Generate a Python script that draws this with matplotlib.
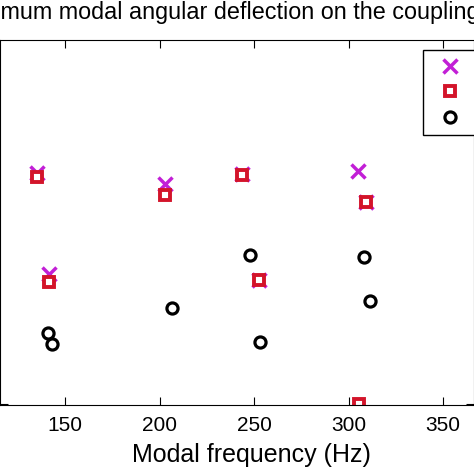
import matplotlib
matplotlib.use("Agg")
import matplotlib.pyplot as plt

plt.rcParams['font.family'] = ['Liberation Sans', 'DejaVu Sans']

x_cross = [135.2, 141.5, 202.9, 243.7, 252.6, 305.0, 309.3]
y_cross = [0.635, 0.356, 0.603, 0.632, 0.340, 0.641, 0.556]
x_square = [135.2, 141.5, 202.9, 243.7, 252.6, 309.3, 305.6]
y_square = [0.624, 0.334, 0.575, 0.630, 0.340, 0.556, 0.000]
x_circle = [141.0, 143.0, 206.6, 247.9, 253.2, 308.2, 311.4]
y_circle = [0.195, 0.164, 0.263, 0.408, 0.170, 0.405, 0.282]
labels = ['Analytical', 'FE model', 'Experimental']

fig = plt.figure(figsize=(4.74, 4.74), dpi=100)
ax = fig.add_axes([0.0, 1 - 405/474, 1.0, (405 - 40)/474])
ax.set_xlim(115.6, 366.4)
ax.set_ylim(-0.003, 1.0)

ax.plot(x_cross, y_cross, 'x', color='#c21fd6', ms=10, mew=2.5, ls='none', label=labels[0])
ax.plot(x_square, y_square, 's', color='#d3142a', mfc='white', ms=6.5, mew=2.8, ls='none', label=labels[1])
ax.plot(x_circle, y_circle, 'o', color='black', mfc='none', ms=8, mew=2.3, ls='none', label=labels[2])

ax.set_xticks([150, 200, 250, 300, 350])
ax.set_yticks([0.0])
ax.set_yticklabels([])
ax.tick_params(direction='in', top=True, right=True, labelsize=15, length=6, pad=8)
ax.set_xlabel('Modal frequency (Hz)', fontsize=18, labelpad=0)
ax.xaxis.set_label_coords(251/474, -0.105)

fig.text(-49/474, 1 - 13/474, 'Maximum modal angular deflection on the coupling shaft',
         fontsize=16.8, ha='left', va='center')

ax.legend(loc='upper left', bbox_to_anchor=(423/474, 1 - 50/474), bbox_transform=fig.transFigure,
          fancybox=False, edgecolor='black', framealpha=1, fontsize=12.5, borderaxespad=0,
          handletextpad=0.5, borderpad=0.55, labelspacing=0.6)

fig.savefig('out.png', dpi=100)
